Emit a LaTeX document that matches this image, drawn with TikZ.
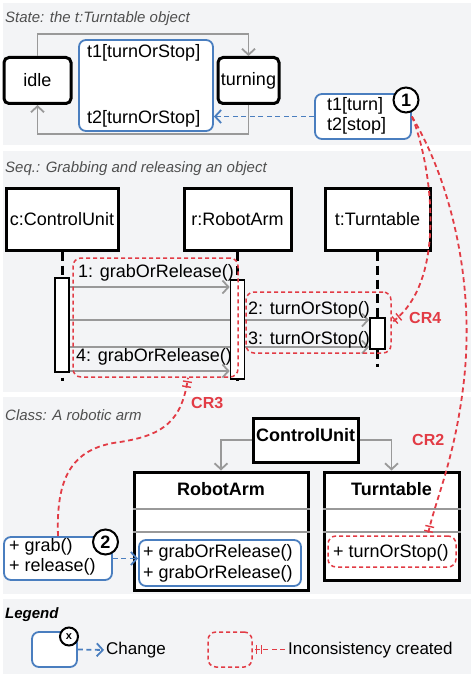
\documentclass[tikz,border=0pt]{standalone}
\usepackage{fontspec}
\setmainfont{Liberation Sans}
\usetikzlibrary{arrows.meta,decorations.markings}
\definecolor{panelgray}{HTML}{F3F4F6}
\definecolor{cblue}{HTML}{4A7EBF}
\definecolor{cred}{HTML}{E23B45}
\definecolor{agray}{HTML}{999999}
\definecolor{tgray}{HTML}{505050}
\begin{document}
\begin{tikzpicture}[x=1pt,y=-1pt,
  every node/.style={font=\fontsize{18}{21}\selectfont, inner sep=0pt},
  panel/.style={fill=panelgray, draw=none},
  ptitle/.style={font=\fontsize{15}{18}\selectfont\itshape, text=tgray, anchor=west},
  statebox/.style={draw=black, line width=3pt, rounded corners=5pt, fill=white},
  chgbox/.style={draw=cblue, line width=1.8pt, rounded corners=7pt, fill=white},
  incbox/.style={draw=cred, line width=1.5pt, dash pattern=on 4pt off 3pt, rounded corners=8pt},
  garrow/.style={draw=agray, line width=1.8pt, -{Straight Barb[length=6pt,width=13pt]}},
  barrow/.style={draw=cblue, line width=1.8pt, dash pattern=on 5pt off 3.5pt, -{Straight Barb[length=6pt,width=13pt]}},
  objbox/.style={draw=black, line width=3pt, fill=white},
  lifeline/.style={line width=3pt, dash pattern=on 9pt off 5pt},
  actbox/.style={draw=black, line width=1.6pt, fill=white},
  classbox/.style={draw=black, line width=3pt, fill=white},
  sepline/.style={draw=agray, line width=1.8pt},
  numcirc/.style={circle, draw=black, line width=2pt, fill=white, inner sep=0pt, font=\fontsize{18}{20}\selectfont\bfseries},
  crline/.style={draw=cred, line width=1.8pt, dash pattern=on 5pt off 3.5pt,
    postaction={decorate, decoration={markings, mark=at position -4pt with {\draw[cred,line width=1.4pt,solid] (0,-4.5pt) -- (0,4.5pt) (-5pt,-4.5pt) -- (-5pt,4.5pt);}}}},
  crlabel/.style={text=cred, font=\fontsize{16}{18}\selectfont\bfseries, anchor=west},
  lt/.style={anchor=west},
  bname/.style={font=\fontsize{18}{21}\selectfont\bfseries},
]
\useasboundingbox (0,0) rectangle (474,674);
% panels
\path[panel] (3,3) rectangle (471,145);
\path[panel] (3,151) rectangle (471,392);
\path[panel] (3,397) rectangle (471,594);
\path[panel] (3,599) rectangle (471,674);

% ===== State panel =====
\node[ptitle] (tstate) at (5,19) {State: the t:Turntable object};
\node[statebox, minimum width=67pt, minimum height=46pt] (idle) at (37.5,80.5) {idle};
\node[statebox, minimum width=61pt, minimum height=46pt] (turning) at (248.5,80.5) {turning};
\node[chgbox, minimum width=134pt, minimum height=91pt] (chg1) at (146,85.5) {};
\node[lt] (c1a) at (87,53) {t1[turnOrStop]};
\node[lt] (c1b) at (87,119) {t2[turnOrStop]};
\coordinate (ytop) at (0,34);
\coordinate (ybot) at (0,134);
\draw[garrow] (idle.north) -- (idle.north |- ytop) -| (turning.north);
\draw[garrow] (turning.south) -- (turning.south |- ybot) -| (idle.south);
\node[chgbox, minimum width=96pt, minimum height=45pt] (note1) at (363,116.5) {};
\node[lt] (n1a) at (327,106) {t1[turn]};
\node[lt] (n1b) at (327,126) {t2[stop]};
\node[numcirc, minimum size=25pt] (num1) at (406,100) {1};
\draw[barrow] (note1.west) -- (chg1.east |- note1.west);

% ===== Sequence panel =====
\node[ptitle] (tseq) at (5,169) {Seq.: Grabbing and releasing an object};
\node[objbox, minimum width=112pt, minimum height=62pt] (oc) at (62,219) {c:ControlUnit};
\node[objbox, minimum width=107pt, minimum height=62pt] (or) at (237.5,219) {r:RobotArm};
\node[objbox, minimum width=105pt, minimum height=62pt] (ot) at (377.5,219) {t:Turntable};
\coordinate (lend) at (0,381);
\coordinate (ltend) at (0,367);
\draw[lifeline] (oc.south) -- (oc.south |- lend);
\draw[lifeline] (or.south) -- (or.south |- lend);
\draw[lifeline] (ot.south) -- (ot.south |- ltend);
\node[actbox, minimum width=14pt, minimum height=94pt] (ac) at (62,325) {};
\node[actbox, minimum width=15pt, minimum height=31pt] (at) at (377.5,333.5) {};
\coordinate (m1) at (0,287);
\coordinate (m2) at (0,320);
\coordinate (m3) at (0,347);
\coordinate (m4) at (0,371);
\draw[garrow] (ac.east |- m2) -- (at.west |- m2);
\draw[garrow] (ac.east |- m3) -- (at.west |- m3);
\node[actbox, minimum width=14pt, minimum height=99pt] (ar) at (237.5,329.5) {};
\draw[garrow] (ac.east |- m1) -- (ar.west |- m1);
\draw[garrow] (ac.east |- m4) -- (ar.west |- m4);
\node[lt] (l1) at (78,273) {1: grabOrRelease()};
\node[lt] (l2) at (248,310) {2: turnOrStop()};
\node[lt] (l3) at (248,340) {3: turnOrStop()};
\node[lt] (l4) at (76,357) {4: grabOrRelease()};
\node[incbox, minimum width=165pt, minimum height=119pt] (incA) at (155.5,317.5) {};
\node[incbox, minimum width=145pt, minimum height=61pt] (incB) at (318.5,322.5) {};

% ===== Class panel =====
\node[ptitle] (tclass) at (5,415) {Class: A robotic arm};
\node[classbox, minimum width=105pt, minimum height=44pt] (cu) at (305.5,440) {};
\node[bname] (cuname) at (305.5,435) {ControlUnit};
\node[classbox, minimum width=174pt, minimum height=118pt] (ra) at (221,531) {};
\node[bname] (raname) at (221,489) {RobotArm};
\node[classbox, minimum width=135pt, minimum height=108pt] (tt) at (391.5,526) {};
\node[bname] (ttname) at (391.5,489) {Turntable};
\coordinate (s1) at (0,509);
\coordinate (s2) at (0,532);
\draw[sepline] (ra.west |- s1) -- (ra.east |- s1);
\draw[sepline] (ra.west |- s2) -- (ra.east |- s2);
\draw[sepline] (tt.west |- s1) -- (tt.east |- s1);
\draw[sepline] (tt.west |- s2) -- (tt.east |- s2);
\draw[garrow] (cu.west) -| (ra.north);
\draw[garrow] (cu.east) -| (tt.north);
\node[chgbox, minimum width=162pt, minimum height=46pt] (raops) at (220,563) {};
\node[lt] (op1) at (143,553) {+ grabOrRelease()};
\node[lt] (op2) at (143,574) {+ grabOrRelease()};
\node[incbox, minimum width=128pt, minimum height=31pt] (incC) at (392,551.5) {};
\node[lt] (op3) at (333,553) {+ turnOrStop()};
\node[chgbox, minimum width=108pt, minimum height=43pt] (note2) at (58,558.5) {};
\node[lt] (n2a) at (9,547) {+ grab()};
\node[lt] (n2b) at (9,567) {+ release()};
\node[numcirc, minimum size=25pt] (num2) at (105.5,542) {2};
\draw[barrow] (note2.east) -- (raops.west |- note2.east);

% ===== Inconsistency links =====
\draw[crline] (note1.east) .. controls (430,160) and (450,280) .. (incB.east);
\draw[crline] (note1.east) .. controls (450,180) and (475,280) .. (464,380) .. controls (455,460) and (435,500) .. ([xshift=-29pt]incC.north east);
\draw[crline] (note2.north) .. controls (56,480) and (70,448) .. (120,442) .. controls (165,435) and (182,420) .. ([xshift=32.5pt]incA.south);
\node[crlabel] (cr4) at (409,318) {CR4};
\node[crlabel] (cr2) at (412,440) {CR2};
\node[crlabel] (cr3) at (191,403) {CR3};

% ===== Legend =====
\node[anchor=west, font=\fontsize{15}{18}\selectfont\bfseries\itshape] (lg) at (5,615) {Legend};
\node[chgbox, minimum width=45pt, minimum height=35pt] (lgc) at (54.5,649.5) {};
\node[numcirc, minimum size=18pt, font=\fontsize{11}{12}\selectfont\bfseries] (lgx) at (69,636.5) {x};
\node[lt, font=\fontsize{17}{20}\selectfont] (lgct) at (106,650) {Change};
\draw[barrow, shorten >=2pt] (lgc.east) -- (lgct.west);
\node[incbox, minimum width=44pt, minimum height=35pt] (lgi) at (230,649.5) {};
\node[lt, font=\fontsize{17}{20}\selectfont] (lgit) at (288,650) {Inconsistency created};
\coordinate (lgs) at (285,649.5);
\draw[crline] (lgs) -- (lgi.east);
\end{tikzpicture}
\end{document}
